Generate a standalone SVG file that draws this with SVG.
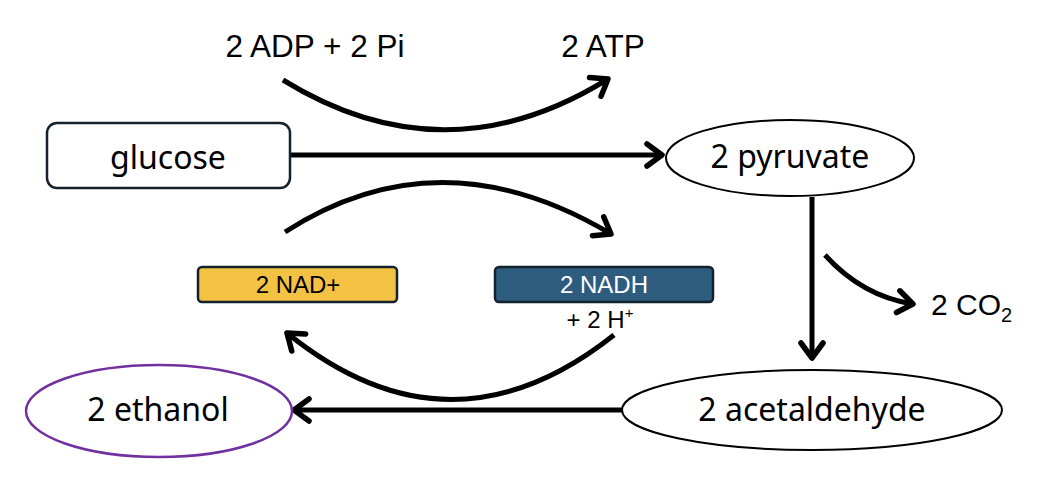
<svg xmlns="http://www.w3.org/2000/svg" width="1044" height="478" viewBox="0 0 1044 478">
<defs>
<style>
.lbl{font-family:"Liberation Sans",Arial,sans-serif;fill:#000;}
.nm{font-family:"Noto Sans","Open Sans",sans-serif;fill:#000;font-size:32px;}
.arr{fill:none;stroke:#000;stroke-width:5;marker-end:url(#ah);}
.box{stroke:#14222e;stroke-width:2.5;}
</style>
<marker id="ah" markerUnits="userSpaceOnUse" orient="auto" markerWidth="40" markerHeight="40" refX="0" refY="0" viewBox="-20 -20 40 40" overflow="visible">
<path d="M-15,-11 L0,0 L-15,11" fill="none" stroke="#000" stroke-width="5.5" stroke-linecap="round" stroke-linejoin="round"/>
</marker>
</defs>
<rect width="1044" height="478" fill="#fff"/>
<g id="connectors">
<path class="arr" d="M290,155 L662,155"/>
<path class="arr" d="M283,80 Q445,180 608,79"/>
<path class="arr" d="M285,232 Q440,132 611,234"/>
<path class="arr" d="M614,335 Q450,465 287,333"/>
<path class="arr" d="M622,410 L294,410"/>
<path class="arr" d="M812,197 L812,358"/>
<path class="arr" d="M825,255 Q862,296 913,304"/>
</g>
<g id="adp"><text class="lbl" x="315" y="57" font-size="31.5" text-anchor="middle">2 ADP + 2 Pi</text></g>
<g id="atp"><text class="lbl" x="603" y="57" font-size="31.5" text-anchor="middle">2 ATP</text></g>
<g id="glucose">
<rect class="box" x="47" y="123" width="243" height="65" rx="10" fill="#fff"/>
<text class="nm" x="168" y="169" text-anchor="middle">glucose</text>
</g>
<g id="pyruvate">
<ellipse cx="790" cy="158" rx="124" ry="38" fill="#fff" stroke="#000" stroke-width="2"/>
<text class="nm" x="790" y="168" text-anchor="middle">2 pyruvate</text>
</g>
<g id="nad">
<rect class="box" x="198" y="267" width="199" height="35" rx="4" fill="#f4c242"/>
<text class="lbl" x="298" y="293" font-size="24" text-anchor="middle">2 NAD+</text>
</g>
<g id="nadh">
<rect class="box" x="495" y="267" width="218" height="35" rx="4" fill="#2d5c7f"/>
<text class="lbl" x="604" y="293" font-size="24" text-anchor="middle" style="fill:#fff">2 NADH</text>
<text class="lbl" x="600" y="328" font-size="24" text-anchor="middle">+ 2 H<tspan font-size="15" dy="-10">+</tspan></text>
</g>
<g id="co2"><text class="lbl" x="931" y="315" font-size="30">2 CO<tspan font-size="20" dy="7">2</tspan></text></g>
<g id="acetaldehyde">
<ellipse cx="812" cy="410" rx="190" ry="40" fill="#fff" stroke="#000" stroke-width="2"/>
<text class="nm" x="812" y="421" text-anchor="middle">2 acetaldehyde</text>
</g>
<g id="ethanol">
<ellipse cx="159" cy="411" rx="133" ry="46" fill="#fff" stroke="#7030a0" stroke-width="2.5"/>
<text class="nm" x="158" y="421" text-anchor="middle">2 ethanol</text>
</g>
</svg>
